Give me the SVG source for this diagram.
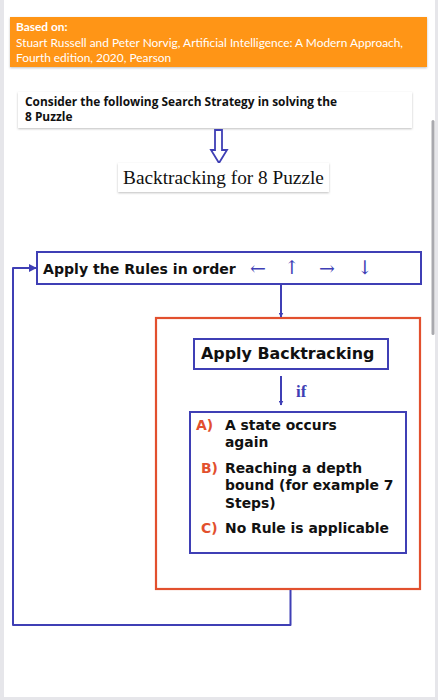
<svg xmlns="http://www.w3.org/2000/svg" width="438" height="700" viewBox="0 0 438 700">
<defs>
<style>
.blue{fill:none;stroke:#3f3fb5;stroke-width:2}
.red{fill:none;stroke:#e2502e;stroke-width:2.2}
.vb{font-family:"DejaVu Sans",Verdana,sans-serif;font-weight:bold;fill:#111}
.lbl{font-family:"DejaVu Sans",Verdana,sans-serif;font-weight:bold;fill:#e2502e}
.cal{font-family:Lato,"Open Sans",sans-serif;font-size:11.9px;fill:#fff}
.cb{font-family:"Open Sans",Lato,sans-serif;font-weight:bold;font-size:11.9px;fill:#111}
.sym{font-family:"DejaVu Serif","Liberation Serif",serif;font-size:19px;fill:#3f3fb5}
.cond{font-size:13.9px}
</style>
<marker id="ah" viewBox="0 0 10 10" refX="9" refY="5" markerWidth="5" markerHeight="5" orient="auto" markerUnits="userSpaceOnUse">
<path d="M0,0 L10,5 L0,10 z" fill="#3f3fb5"/>
</marker>
<marker id="ah2" viewBox="0 0 10 10" refX="9" refY="5" markerWidth="8" markerHeight="8" orient="auto" markerUnits="userSpaceOnUse">
<path d="M0,0 L10,5 L0,10 z" fill="#3f3fb5"/>
</marker>
<filter id="sh" x="-5%" y="-20%" width="110%" height="150%">
<feDropShadow dx="0" dy="1" stdDeviation="1" flood-color="#000" flood-opacity="0.25"/>
</filter>
</defs>
<rect x="0" y="0" width="438" height="700" fill="#e6e6ea"/>
<rect x="4" y="0" width="431" height="697" fill="#ffffff"/>
<rect x="431.5" y="120" width="3" height="215" rx="1.5" fill="#a9a9ae"/>

<g id="source">
<rect x="10" y="17" width="417" height="50" fill="#ff9514" filter="url(#sh)"/>
<text x="16" y="31" class="cal" font-weight="bold">Based on:</text>
<text x="16" y="47" class="cal">Stuart Russell and Peter Norvig, Artificial Intelligence: A Modern Approach,</text>
<text x="16" y="62" class="cal">Fourth edition, 2020, Pearson</text>
</g>

<g id="consider">
<rect x="18" y="92" width="394" height="36" fill="#fff" filter="url(#sh)"/>
<text x="25" y="106" class="cb">Consider the following Search Strategy in solving the</text>
<text x="25" y="121" class="cb">8 Puzzle</text>
</g>

<g id="hollow-arrow">
<path d="M215,130 L222,130 L222,150 L227,150 L219,163 L211,150 L215,150 Z" fill="#fff" stroke="#3f3fb5" stroke-width="1.8" stroke-linejoin="miter"/>
</g>

<g id="title">
<rect x="118" y="163" width="211" height="29" fill="#fff" filter="url(#sh)"/>
<text x="223.5" y="184" text-anchor="middle" font-family="'Liberation Serif','Times New Roman',serif" font-size="19.3" fill="#111">Backtracking for 8 Puzzle</text>
</g>

<g id="rules">
<rect x="37" y="252" width="384" height="32" class="blue" fill="#fff"/>
<text x="43" y="274" class="vb" font-size="14.1">Apply the Rules in order</text>
<text x="250" y="275" class="sym">←</text>
<text x="284" y="274" class="sym">↑</text>
<text x="319" y="275" class="sym">→</text>
<text x="357" y="274" class="sym">↓</text>
</g>

<g id="backtrack-region">
<rect x="156" y="318" width="264" height="271" class="red"/>
</g>

<g id="apply-backtracking">
<rect x="194" y="339" width="194" height="30" class="blue" fill="#fff"/>
<text x="201" y="359" class="vb" font-size="15.9">Apply Backtracking</text>
</g>

<g id="if-label">
<text x="296" y="397" font-family="'Liberation Serif','Times New Roman',serif" font-weight="bold" font-size="17" fill="#3f3fb5">if</text>
</g>

<g id="conditions">
<rect x="190" y="412" width="216" height="141" class="blue" fill="#fff"/>
<text x="196" y="430" class="lbl cond">A)</text>
<text x="225" y="430" class="vb cond">A state occurs</text>
<text x="225" y="447" class="vb cond">again</text>
<text x="201" y="473" class="lbl cond">B)</text>
<text x="225" y="473" class="vb cond">Reaching a depth</text>
<text x="225" y="490" class="vb cond">bound (for example 7</text>
<text x="225" y="508" class="vb cond">Steps)</text>
<text x="201" y="533" class="lbl cond">C)</text>
<text x="225" y="533" class="vb cond">No Rule is applicable</text>
</g>

<g id="connectors">
<line x1="281" y1="285" x2="281" y2="317" class="blue" marker-end="url(#ah)"/>
<line x1="281" y1="376" x2="281" y2="405" class="blue" marker-end="url(#ah)"/>
<polyline points="290.5,590 290.5,625 13,625 13,268 36,268" class="blue" stroke-linejoin="round" marker-end="url(#ah2)"/>
</g>
</svg>
